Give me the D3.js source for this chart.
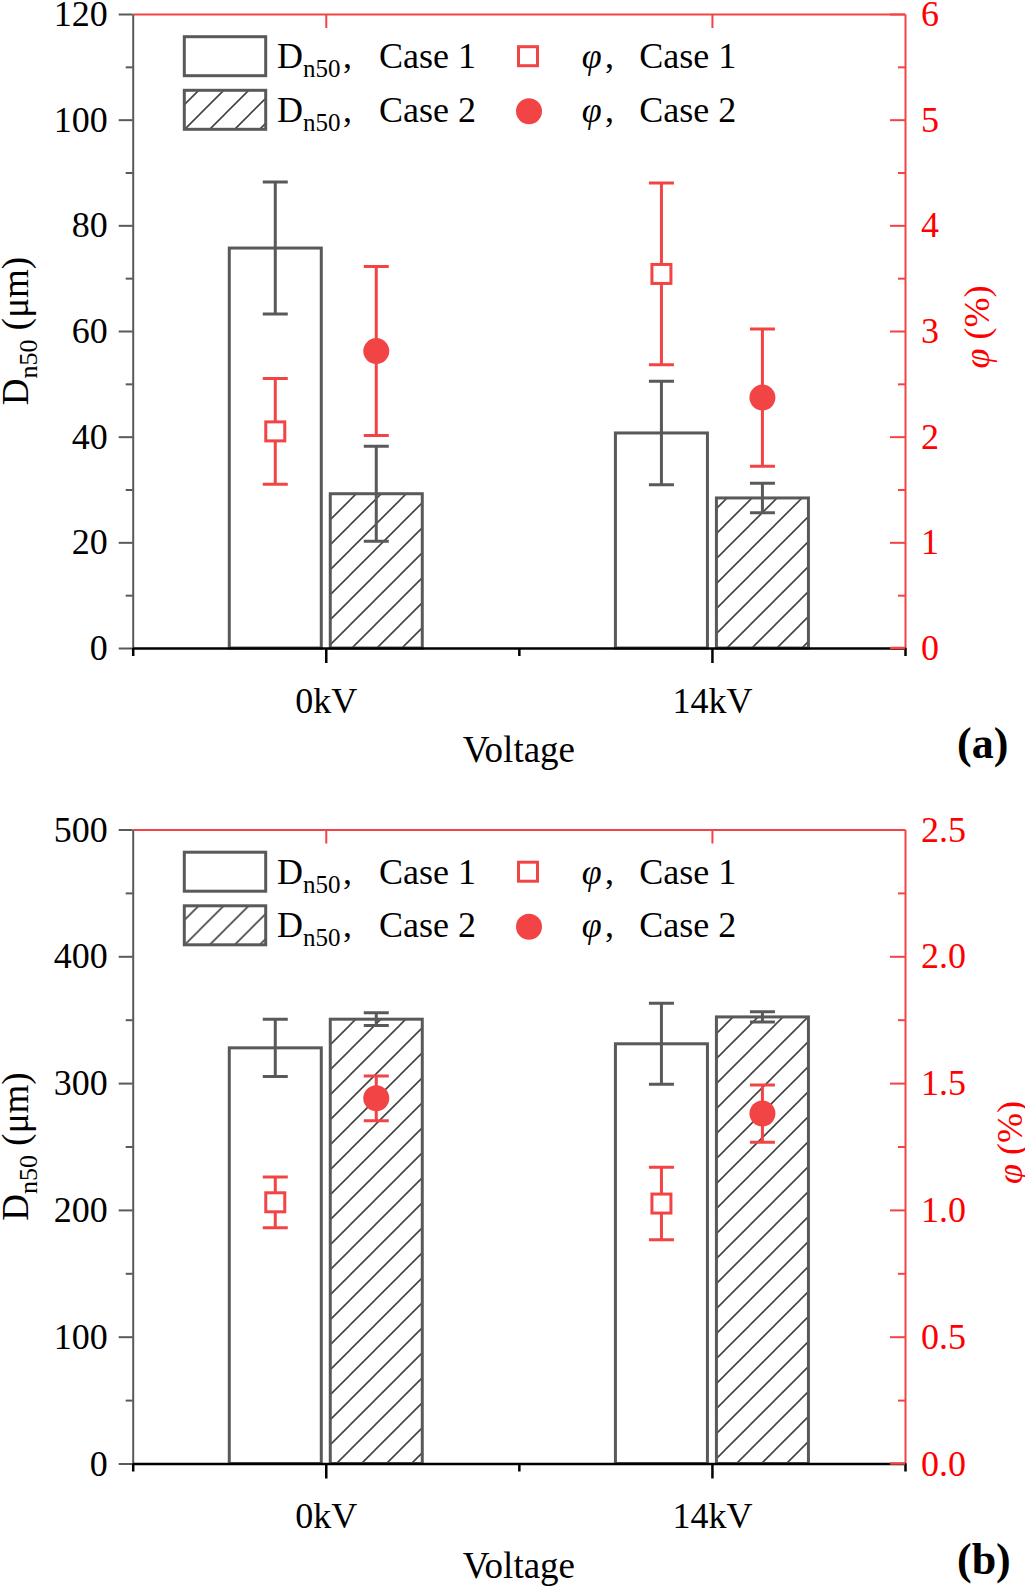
<!DOCTYPE html>
<html>
<head>
<meta charset="utf-8">
<script src="https://cdn.jsdelivr.net/npm/d3@7"></script>
<style>
  body { margin: 0; background: #fff; }
  text { font-family: "Liberation Serif", "Times New Roman", serif; }
</style>
</head>
<body>
<div id="chart"></div>
<script>
// categories
const voltages = ["0kV", "14kV"];
const cases = ["Case 1", "Case 2"];

// panel (a) values
const aDn50Case1 = [75.7, 40.7];
const aDn50Case1Err = [12.5, 9.8];
const aDn50Case2 = [29.2, 28.4];
const aDn50Case2Err = [9.0, 2.8];
const aPhiCase1 = [2.05, 3.54];
const aPhiCase1Err = [0.50, 0.86];
const aPhiCase2 = [2.81, 2.37];
const aPhiCase2Err = [0.80, 0.65];

// panel (b) values
const bDn50Case1 = [327.8, 331.0];
const bDn50Case1Err = [22.5, 32.0];
const bDn50Case2 = [350.4, 352.2];
const bDn50Case2Err = [5.0, 4.0];
const bPhiCase1 = [1.03, 1.025];
const bPhiCase1Err = [0.10, 0.143];
const bPhiCase2 = [1.44, 1.38];
const bPhiCase2Err = [0.088, 0.113];

// ticks
const aLeftTicks = [0, 20, 40, 60, 80, 100, 120];
const aLeftMinor = [10, 30, 50, 70, 90, 110];
const aRightTicks = [0, 1, 2, 3, 4, 5, 6];
const aRightMinor = [0.5, 1.5, 2.5, 3.5, 4.5, 5.5];
const bLeftTicks = [0, 100, 200, 300, 400, 500];
const bLeftMinor = [50, 150, 250, 350, 450];
const bRightTicks = [0, 0.5, 1.0, 1.5, 2.0, 2.5];
const bRightMinor = [0.25, 0.75, 1.25, 1.75, 2.25];

const W = 1025, H = 1587;
const left = 132.7, right = 905;
const gray = "#595959", red = "#f24444", pureRed = "#ff0000";

const svg = d3.select("#chart").append("svg")
  .attr("width", W).attr("height", H);

svg.append("rect").attr("width", W).attr("height", H).attr("fill", "#fff");

const defs = svg.append("defs");
const pat = defs.append("pattern")
  .attr("id", "hatch")
  .attr("patternUnits", "userSpaceOnUse")
  .attr("width", 25).attr("height", 25);
pat.append("rect").attr("width", 25).attr("height", 25).attr("fill", "#fff");
pat.append("path")
  .attr("d", "M0,25 L25,0 M-5,5 L5,-5 M20,30 L30,20")
  .attr("stroke", "#444").attr("stroke-width", 1.6);

const x = d3.scaleLinear().domain([0.5, 2.5]).range([left, right]);
const sub = d3.scaleBand().domain(cases).range([-96.5, 96.5]).paddingInner(0.089);

function drawPanel(cfg) {
  const top = cfg.top, bottom = cfg.top + 634;
  const g = svg.append("g");

  const yL = d3.scaleLinear().domain(cfg.leftDomain).range([bottom, top]);
  const yR = d3.scaleLinear().domain(cfg.rightDomain).range([bottom, top]);

  // top axis
  const topAx = g.append("g").attr("transform", `translate(0,${top})`)
    .call(d3.axisTop(x).tickValues([1, 2]).tickSize(-14).tickSizeOuter(0).tickFormat(""));
  topAx.selectAll("path, line").attr("stroke", red).attr("stroke-width", 2);

  // right axis
  const rAx = g.append("g").attr("transform", `translate(${right},0)`)
    .call(d3.axisRight(yR).tickValues(cfg.rightTicks).tickSize(-15).tickSizeOuter(0)
      .tickPadding(16).tickFormat(cfg.rightFormat));
  rAx.selectAll("path, line").attr("stroke", red).attr("stroke-width", 2);
  rAx.selectAll("text").attr("fill", pureRed).style("font-size", "36px")
    .style("font-family", '"Liberation Serif", serif');
  const rMin = g.append("g").attr("transform", `translate(${right},0)`)
    .call(d3.axisRight(yR).tickValues(cfg.rightMinor).tickSize(-7).tickFormat(""));
  rMin.select(".domain").remove();
  rMin.selectAll("line").attr("stroke", red).attr("stroke-width", 2);

  // left axis
  const lAx = g.append("g").attr("transform", `translate(${left},0)`)
    .call(d3.axisLeft(yL).tickValues(cfg.leftTicks).tickSize(14).tickSizeOuter(0).tickPadding(11));
  lAx.selectAll("path, line").attr("stroke", gray).attr("stroke-width", 2);
  lAx.selectAll("text").attr("fill", "#000").style("font-size", "36px")
    .style("font-family", '"Liberation Serif", serif');
  const lMin = g.append("g").attr("transform", `translate(${left},0)`)
    .call(d3.axisLeft(yL).tickValues(cfg.leftMinor).tickSize(7).tickFormat(""));
  lMin.select(".domain").remove();
  lMin.selectAll("line").attr("stroke", gray).attr("stroke-width", 2);

  // bars
  const barData = [
    { c: "Case 1", v: cfg.dn1, e: cfg.dn1e, fill: "#fff" },
    { c: "Case 2", v: cfg.dn2, e: cfg.dn2e, fill: "url(#hatch)" }
  ];
  barData.forEach(s => {
    s.v.forEach((v, i) => {
      const cx = x(i + 1) + sub(s.c) + sub.bandwidth() / 2;
      g.append("rect")
        .attr("x", cx - sub.bandwidth() / 2)
        .attr("y", yL(v))
        .attr("width", sub.bandwidth())
        .attr("height", yL(0) - yL(v))
        .attr("fill", s.fill)
        .attr("stroke", gray).attr("stroke-width", 3);
    });
  });
  barData.forEach(s => {
    s.v.forEach((v, i) => {
      const cx = x(i + 1) + sub(s.c) + sub.bandwidth() / 2;
      const y1 = yL(v + s.e[i]), y0 = yL(v - s.e[i]);
      g.append("path")
        .attr("d", `M${cx},${y1}V${y0}M${cx - 12.5},${y1}H${cx + 12.5}M${cx - 12.5},${y0}H${cx + 12.5}`)
        .attr("stroke", gray).attr("stroke-width", 3).attr("fill", "none");
    });
  });

  // bottom axis (drawn after bars)
  const bAx = g.append("g").attr("transform", `translate(0,${bottom})`)
    .call(d3.axisBottom(x).tickValues([1, 2]).tickSize(15).tickSizeOuter(0)
      .tickPadding(24).tickFormat(d => voltages[d - 1]));
  bAx.selectAll("path, line").attr("stroke", "#000").attr("stroke-width", 2.5);
  bAx.selectAll("text").attr("fill", "#000").style("font-size", "36px")
    .style("font-family", '"Liberation Serif", serif');
  const bMin = g.append("g").attr("transform", `translate(0,${bottom})`)
    .call(d3.axisBottom(x).tickValues([0.5, 1.5, 2.5]).tickSize(8).tickFormat(""));
  bMin.select(".domain").remove();
  bMin.selectAll("line").attr("stroke", "#000").attr("stroke-width", 2.5);
  // red zero tick on right axis over black axis line
  g.append("line").attr("x1", right - 15).attr("x2", right)
    .attr("y1", yR(0)).attr("y2", yR(0)).attr("stroke", red).attr("stroke-width", 2.5);

  // phi markers
  const phiData = [
    { c: "Case 1", v: cfg.ph1, e: cfg.ph1e, shape: "square" },
    { c: "Case 2", v: cfg.ph2, e: cfg.ph2e, shape: "circle" }
  ];
  phiData.forEach(s => {
    s.v.forEach((v, i) => {
      const cx = x(i + 1) + sub(s.c) + sub.bandwidth() / 2;
      const y1 = yR(v + s.e[i]), y0 = yR(v - s.e[i]);
      g.append("path")
        .attr("d", `M${cx},${y1}V${y0}M${cx - 12.5},${y1}H${cx + 12.5}M${cx - 12.5},${y0}H${cx + 12.5}`)
        .attr("stroke", red).attr("stroke-width", 3).attr("fill", "none");
      if (s.shape === "square") {
        g.append("rect").attr("x", cx - 9.5).attr("y", yR(v) - 9.5)
          .attr("width", 19).attr("height", 19)
          .attr("fill", "#fff").attr("stroke", red).attr("stroke-width", 3);
      } else {
        g.append("circle").attr("cx", cx).attr("cy", yR(v)).attr("r", 13).attr("fill", red);
      }
    });
  });

  // legend
  const lg = g.append("g").attr("transform", `translate(0,${top})`);
  [["#fff", 22.7], ["url(#hatch)", 76.3]].forEach(([f, yy], k) => {
    lg.append("rect").attr("x", 184.3).attr("y", yy).attr("width", 81.4).attr("height", 39)
      .attr("fill", f).attr("stroke", gray).attr("stroke-width", 3);
    const base = yy + 31.5;
    const t = lg.append("text").attr("x", 277).attr("y", base).style("font-size", "36px");
    t.append("tspan").text("D");
    t.append("tspan").attr("dy", 9).style("font-size", "25px").text("n50");
    lg.append("text").attr("x", 343).attr("y", base).style("font-size", "36px").text(",");
    lg.append("text").attr("x", 379).attr("y", base).style("font-size", "36px").text(cases[k]);
    if (k === 0) {
      lg.append("rect").attr("x", 528 - 9.5).attr("y", yy + 19.5 - 9.5).attr("width", 19).attr("height", 19)
        .attr("fill", "#fff").attr("stroke", red).attr("stroke-width", 3);
    } else {
      lg.append("circle").attr("cx", 529).attr("cy", yy + 21).attr("r", 13).attr("fill", red);
    }
    lg.append("text").attr("x", 581.7).attr("y", base).style("font-size", "36px")
      .style("font-style", "italic").text("φ");
    lg.append("text").attr("x", 605).attr("y", base).style("font-size", "36px").text(",");
    lg.append("text").attr("x", 639.3).attr("y", base).style("font-size", "36px").text(cases[k]);
  });

  // axis titles
  const lt = g.append("text")
    .attr("transform", `translate(28,${(top + bottom) / 2}) rotate(-90)`)
    .attr("text-anchor", "middle").style("font-size", "37px");
  lt.append("tspan").text("D");
  lt.append("tspan").attr("dy", 9).style("font-size", "26px").text("n50");
  lt.append("tspan").attr("dy", -9).text(" (μm)");

  const rt = g.append("text")
    .attr("transform", `translate(${cfg.rightTitleX},${(top + bottom) / 2 - 4}) rotate(-90)`)
    .attr("text-anchor", "middle").attr("fill", pureRed).style("font-size", "36px");
  rt.append("tspan").style("font-style", "italic").text("φ");
  rt.append("tspan").text(" (%)");

  g.append("text").attr("x", (left + right) / 2).attr("y", bottom + 114)
    .attr("text-anchor", "middle").style("font-size", "37px").text("Voltage");
  g.append("text").attr("x", 957).attr("y", bottom + 110)
    .style("font-size", "44px").style("font-weight", "bold").text(cfg.tag);
}

drawPanel({
  top: 14, tag: "(a)",
  leftDomain: [0, 120], rightDomain: [0, 6],
  leftTicks: aLeftTicks, leftMinor: aLeftMinor,
  rightTicks: aRightTicks, rightMinor: aRightMinor,
  rightFormat: d3.format("d"), rightTitleX: 989,
  dn1: aDn50Case1, dn1e: aDn50Case1Err, dn2: aDn50Case2, dn2e: aDn50Case2Err,
  ph1: aPhiCase1, ph1e: aPhiCase1Err, ph2: aPhiCase2, ph2e: aPhiCase2Err
});

drawPanel({
  top: 829.5, tag: "(b)",
  leftDomain: [0, 500], rightDomain: [0, 2.5],
  leftTicks: bLeftTicks, leftMinor: bLeftMinor,
  rightTicks: bRightTicks, rightMinor: bRightMinor,
  rightFormat: d3.format(".1f"), rightTitleX: 1022,
  dn1: bDn50Case1, dn1e: bDn50Case1Err, dn2: bDn50Case2, dn2e: bDn50Case2Err,
  ph1: bPhiCase1, ph1e: bPhiCase1Err, ph2: bPhiCase2, ph2e: bPhiCase2Err
});
</script>
</body>
</html>
